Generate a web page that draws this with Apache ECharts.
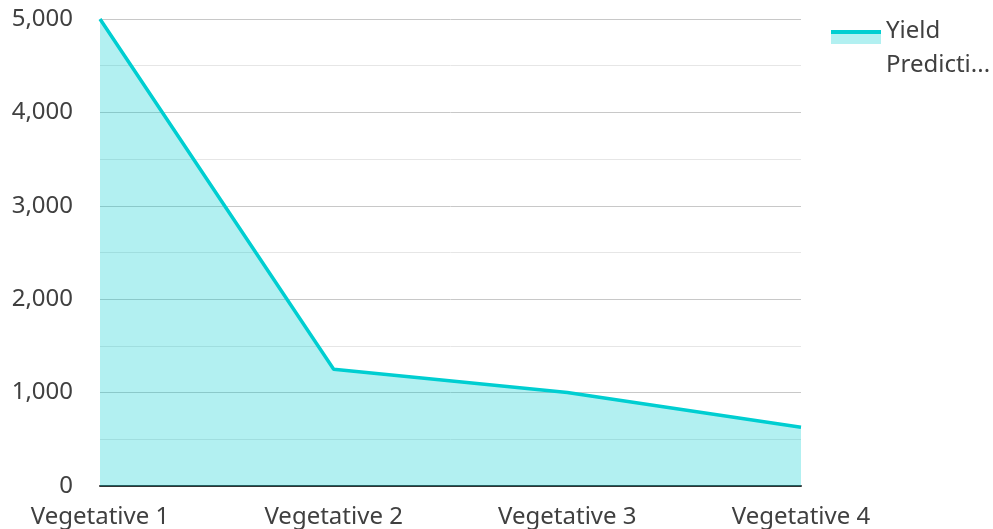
<!DOCTYPE html>
<html>
<head>
<meta charset="utf-8">
<script src="https://cdn.jsdelivr.net/npm/echarts@6/dist/echarts.min.js"></script>
<style>
  html, body { margin: 0; padding: 0; background: #fff; }
  #chart { width: 993px; height: 529px; }
</style>
</head>
<body>
<div id="chart"></div>
<script>
// stages on the x axis
const stages = ['Vegetative 1', 'Vegetative 2', 'Vegetative 3', 'Vegetative 4']
// yield prediction values
const yieldValues = [5000, 1250, 1000, 630]
const seriesName = 'Yield Prediction'

const teal = '#00ced1'
const tealLight = '#b2f0f1'

const chart = echarts.init(document.getElementById('chart'))
chart.setOption({
  textStyle: { fontFamily: 'Noto Sans' },
  animation: false,
  grid: { left: 100, right: 192, top: 19, bottom: 42 },
  legend: {
    orient: 'vertical',
    left: 826,
    top: -14,
    itemWidth: 50,
    itemHeight: 14,
    icon: 'rect',
    // legend text wraps and is cut off in the original
    formatter: () => '{s|}\n{a|Yield}\n{a|Predicti...}',
    itemStyle: {
      color: {
        type: 'linear', x: 0, y: 0, x2: 0, y2: 1,
        colorStops: [
          { offset: 0, color: teal },
          { offset: 0.28, color: teal },
          { offset: 0.28, color: tealLight },
          { offset: 1, color: tealLight }
        ]
      }
    },
    textStyle: {
      fontSize: 24,
      color: '#404040',
      rich: {
        s: { height: 22, lineHeight: 22 },
        a: { fontSize: 24, lineHeight: 34, color: '#404040' }
      }
    },
    data: [seriesName]
  },
  xAxis: {
    type: 'category',
    boundaryGap: false,
    data: stages,
    axisLine: { lineStyle: { color: '#333', width: 2 } },
    axisTick: { show: false },
    axisLabel: { fontSize: 24, color: '#404040', margin: 19 }
  },
  yAxis: {
    type: 'value',
    min: 0,
    max: 5000,
    interval: 1000,
    axisLabel: {
      fontSize: 24,
      color: '#404040',
      margin: 27,
      formatter: v => v.toLocaleString('en-US')
    },
    splitLine: { lineStyle: { color: '#c8c8c8', width: 1 } },
    minorTick: { show: false, splitNumber: 2 },
    minorSplitLine: { show: true, lineStyle: { color: '#e6e6e6', width: 1 } }
  },
  series: [
    {
      name: seriesName,
      type: 'line',
      data: yieldValues,
      symbol: 'none',
      lineStyle: { color: teal, width: 3.5 },
      itemStyle: { color: teal },
      areaStyle: { color: teal, opacity: 0.3 }
    }
  ]
})
</script>
</body>
</html>
